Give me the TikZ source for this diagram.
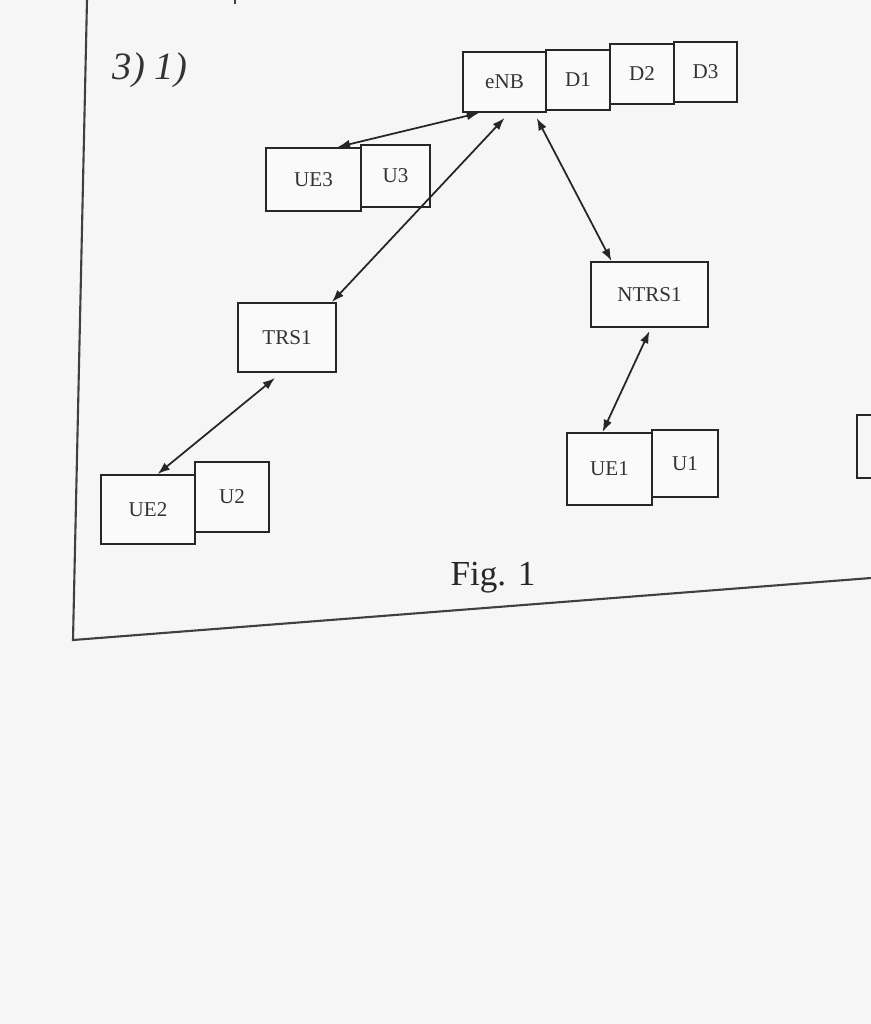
\documentclass[tikz,border=0pt]{standalone}
\usepackage{fontspec}
\setmainfont{Liberation Serif}
\usetikzlibrary{calc,arrows.meta}
\begin{document}
\begin{tikzpicture}[x=0.02cm,y=-0.02cm,
  bx/.style={draw=black!85,line width=1.1pt,fill=white!96!gray,inner sep=0pt,font=\fontsize{12}{14}\selectfont,text=black!80},
  lk/.style={line width=1pt,black!85,{Latex[length=7pt,width=5pt]}-{Latex[length=7pt,width=5pt]}}]
\useasboundingbox (0,0) rectangle (871,1024);
\fill[gray!7] (0,0) rectangle (871,1024);
\draw[line width=1.2pt,black!75] (87,0) -- (73,640) -- (871,578);
\draw[line width=1.2pt,black!75] (235,0) -- (235,4);
\node[font=\fontsize{22}{24}\selectfont,text=black!80] (hw) at (150,70) {\itshape 3) 1)};
\node[bx,minimum width=1.66cm,minimum height=1.2cm] (eNB) at (504.5,82) {eNB};
\node[bx,minimum width=1.28cm,minimum height=1.2cm] (D1) at (578,80) {D1};
\node[bx,minimum width=1.28cm,minimum height=1.2cm] (D2) at (642,74) {D2};
\node[bx,minimum width=1.26cm,minimum height=1.2cm] (D3) at (705.5,72) {D3};
\node[bx,minimum width=1.9cm,minimum height=1.26cm] (UE3) at (313.5,179.5) {UE3};
\node[bx,minimum width=1.38cm,minimum height=1.24cm] (U3) at (395.5,176) {U3};
\node[bx,minimum width=1.96cm,minimum height=1.38cm] (TRS1) at (287,337.5) {TRS1};
\node[bx,minimum width=2.34cm,minimum height=1.3cm] (NTRS1) at (649.5,294.5) {NTRS1};
\node[bx,minimum width=1.7cm,minimum height=1.44cm] (UE1) at (609.5,469) {UE1};
\node[bx,minimum width=1.32cm,minimum height=1.34cm] (U1) at (685,463.5) {U1};
\node[bx,minimum width=1.88cm,minimum height=1.38cm] (UE2) at (148,509.5) {UE2};
\node[bx,minimum width=1.48cm,minimum height=1.4cm] (U2) at (232,497) {U2};
\draw[line width=1.1pt,black!85] (871,415) -- (857,415) -- (857,478) -- (871,478);
\node[font=\fontsize{20}{22}\selectfont,text=black!85] (fig) at (493,578) {Fig. 1};
\draw[lk] ($(eNB.south west)!0.2!(eNB.south east)$) -- ($(UE3.north west)!0.75!(UE3.north east)$);
\draw[lk] ($(eNB.south west)!0.5!(eNB.south east)$) ++(0,5) -- ($(TRS1.north west)!0.95!(TRS1.north east)$);
\draw[lk] ($(eNB.south west)!0.88!(eNB.south east)$) ++(0,5) -- ($(NTRS1.north west)!0.18!(NTRS1.north east)$);
\draw[lk] ($(NTRS1.south west)!0.5!(NTRS1.south east)$) ++(0,3) -- ($(UE1.north west)!0.42!(UE1.north east)$);
\draw[lk] ($(TRS1.south west)!0.38!(TRS1.south east)$) ++(0,5) -- ($(UE2.north west)!0.6!(UE2.north east)$);
\end{tikzpicture}
\end{document}
